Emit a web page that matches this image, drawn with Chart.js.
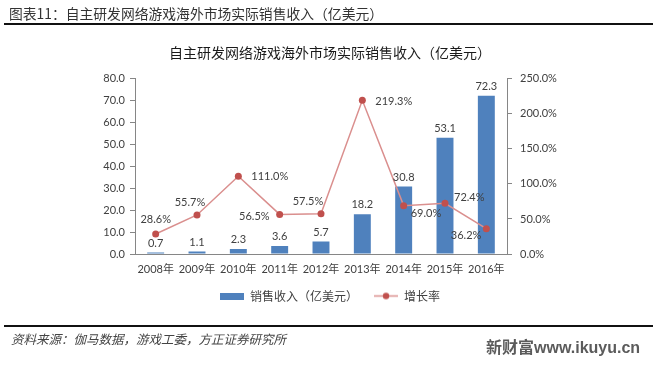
<!DOCTYPE html>
<html>
<head>
<meta charset="utf-8">
<script src="https://cdn.jsdelivr.net/npm/chart.js@4.4.1/dist/chart.umd.min.js"></script>
<style>
  html, body { margin: 0; padding: 0; background: #fff; }
  #wrap { position: relative; width: 660px; height: 365px; overflow: hidden; font-family: 'Noto Sans CJK SC', sans-serif; }
  #chartBox { position: absolute; left: 0; top: 0; width: 660px; height: 365px; }
  .hdr { position: absolute; left: 9px; top: 3px; font-size: 13.8px; line-height: 20px; color: #333; white-space: nowrap; }
  .rule { position: absolute; left: 4px; width: 649px; height: 2px; background: #111; }
  .src { position: absolute; left: 11px; top: 331px; font-size: 12.5px; line-height: 16px; font-style: italic; color: #444; white-space: nowrap; }
  .mark { position: absolute; left: 486px; top: 339px; font-size: 16px; line-height: 18px; font-weight: bold; color: #5b5b5b; font-family: 'Liberation Sans', 'Noto Sans CJK SC', sans-serif; white-space: nowrap; }
</style>
</head>
<body>
<div id="wrap">
  <div id="chartBox"><canvas id="salesChart"></canvas></div>
  <div class="hdr">图表11：自主研发网络游戏海外市场实际销售收入（亿美元）</div>
  <div class="rule" style="top:23px"></div>
  <div class="rule" style="top:325px"></div>
  <div class="src">资料来源：伽马数据，游戏工委，方正证券研究所</div>
  <div class="mark">新财富www.ikuyu.cn</div>
</div>
<script>
// 数据
const years = ['2008年', '2009年', '2010年', '2011年', '2012年', '2013年', '2014年', '2015年', '2016年'];
const revenue = [0.7, 1.1, 2.3, 3.6, 5.7, 18.2, 30.8, 53.1, 72.3];
const growth = [28.6, 55.7, 111.0, 56.5, 57.5, 219.3, 69.0, 72.4, 36.2];
const leftTicks = [0, 10, 20, 30, 40, 50, 60, 70, 80];
const rightTicks = [0, 50, 100, 150, 200, 250];

// 增长率标签相对数据点的位置 [dx, dy, 对齐]
const growthLabelPos = [
    [0, -15, 'center'],
    [-7, -13, 'center'],
    [13, 0, 'left'],
    [-10, 2, 'right'],
    [-13, -12, 'center'],
    [13, 1, 'left'],
    [7, 8, 'left'],
    [9, -6, 'left'],
    [-5, 7, 'right']
];

const BAR_COLOR = '#4F81BD';
const LINE_COLOR = '#DA8F8E';
const DOT_COLOR = '#C0504D';
const AXIS_COLOR = '#868686';
const TEXT_COLOR = '#404040';
const NUM_FONT = 'Lato, "Noto Sans CJK SC", sans-serif';

// 图例图标
const barIcon = document.createElement('canvas');
barIcon.width = 24; barIcon.height = 7;
let ictx = barIcon.getContext('2d');
ictx.fillStyle = BAR_COLOR;
ictx.fillRect(0, 0, 24, 7);

const lineIcon = document.createElement('canvas');
lineIcon.width = 24; lineIcon.height = 9;
ictx = lineIcon.getContext('2d');
ictx.strokeStyle = LINE_COLOR;
ictx.lineWidth = 1.5;
ictx.beginPath(); ictx.moveTo(0, 4.5); ictx.lineTo(24, 4.5); ictx.stroke();
ictx.fillStyle = DOT_COLOR;
ictx.beginPath(); ictx.arc(12, 4.5, 3.2, 0, Math.PI * 2); ictx.fill();

// 数据标签
const valueLabels = {
    id: 'valueLabels',
    afterDatasetsDraw(chart) {
        const ctx = chart.ctx;
        ctx.save();
        ctx.font = '11px ' + NUM_FONT;
        ctx.fillStyle = TEXT_COLOR;
        chart.getDatasetMeta(0).data.forEach((bar, i) => {
            ctx.textAlign = 'center';
            ctx.textBaseline = 'bottom';
            ctx.fillText(revenue[i].toFixed(1), bar.x, bar.y - 4);
        });
        chart.getDatasetMeta(1).data.forEach((pt, i) => {
            const [dx, dy, align] = growthLabelPos[i];
            ctx.textAlign = align;
            ctx.textBaseline = 'middle';
            ctx.fillText(growth[i].toFixed(1) + '%', pt.x + dx, pt.y + dy);
        });
        ctx.restore();
    }
};

const ctx = document.getElementById('salesChart').getContext('2d');
new Chart(ctx, {
    data: {
        labels: years,
        datasets: [
            {
                type: 'bar',
                label: '销售收入（亿美元）',
                data: revenue,
                backgroundColor: BAR_COLOR,
                yAxisID: 'y',
                barPercentage: 0.41,
                categoryPercentage: 1,
                order: 2
            },
            {
                type: 'line',
                label: '增长率',
                data: growth,
                borderColor: LINE_COLOR,
                borderWidth: 1.5,
                pointRadius: 3.5,
                pointBackgroundColor: DOT_COLOR,
                pointBorderColor: DOT_COLOR,
                pointBorderWidth: 0,
                tension: 0,
                yAxisID: 'y1',
                order: 1
            }
        ]
    },
    options: {
        responsive: true,
        maintainAspectRatio: false,
        animation: false,
        layout: { padding: { left: 90, right: 90, top: 0, bottom: 53 } },
        plugins: {
            tooltip: { enabled: false },
            title: {
                display: true,
                text: '自主研发网络游戏海外市场实际销售收入（亿美元）',
                color: '#1a1a1a',
                font: { size: 14, weight: 'normal', family: '"Noto Sans CJK SC", sans-serif' },
                padding: { top: 44, bottom: 18 }
            },
            legend: {
                position: 'bottom',
                labels: {
                    usePointStyle: true,
                    pointStyleWidth: 24,
                    padding: 10,
                    color: TEXT_COLOR,
                    font: { size: 12, family: '"Noto Sans CJK SC", sans-serif' },
                    generateLabels: () => [
                        { text: '销售收入（亿美元）\u3000', pointStyle: barIcon, fillStyle: BAR_COLOR, strokeStyle: 'transparent', lineWidth: 0, fontColor: TEXT_COLOR, datasetIndex: 0, hidden: false },
                        { text: '增长率', pointStyle: lineIcon, fillStyle: DOT_COLOR, strokeStyle: 'transparent', lineWidth: 0, fontColor: TEXT_COLOR, datasetIndex: 1, hidden: false }
                    ]
                }
            }
        },
        scales: {
            x: {
                grid: { display: true, drawOnChartArea: false, drawTicks: false, color: AXIS_COLOR },
                border: { color: AXIS_COLOR },
                ticks: { color: TEXT_COLOR, font: { size: 11, family: NUM_FONT }, padding: 9, maxRotation: 0 },
                afterFit: s => { s.height = 26; }
            },
            y: {
                position: 'left',
                min: 0, max: 80,
                afterBuildTicks: s => { s.ticks = leftTicks.map(v => ({ value: v })); },
                grid: { drawOnChartArea: false, tickLength: 5, color: AXIS_COLOR },
                border: { color: AXIS_COLOR },
                ticks: { color: TEXT_COLOR, font: { size: 11, family: NUM_FONT }, padding: 5, callback: v => v.toFixed(1) },
                afterFit: s => { s.width = 45; }
            },
            y1: {
                position: 'right',
                min: 0, max: 250,
                afterBuildTicks: s => { s.ticks = rightTicks.map(v => ({ value: v })); },
                grid: { drawOnChartArea: false, tickLength: 5, color: AXIS_COLOR },
                border: { color: AXIS_COLOR },
                ticks: { color: TEXT_COLOR, font: { size: 11, family: NUM_FONT }, padding: 8, callback: v => v.toFixed(1) + '%' },
                afterFit: s => { s.width = 63; }
            }
        }
    },
    plugins: [valueLabels]
});
</script>
</body>
</html>
